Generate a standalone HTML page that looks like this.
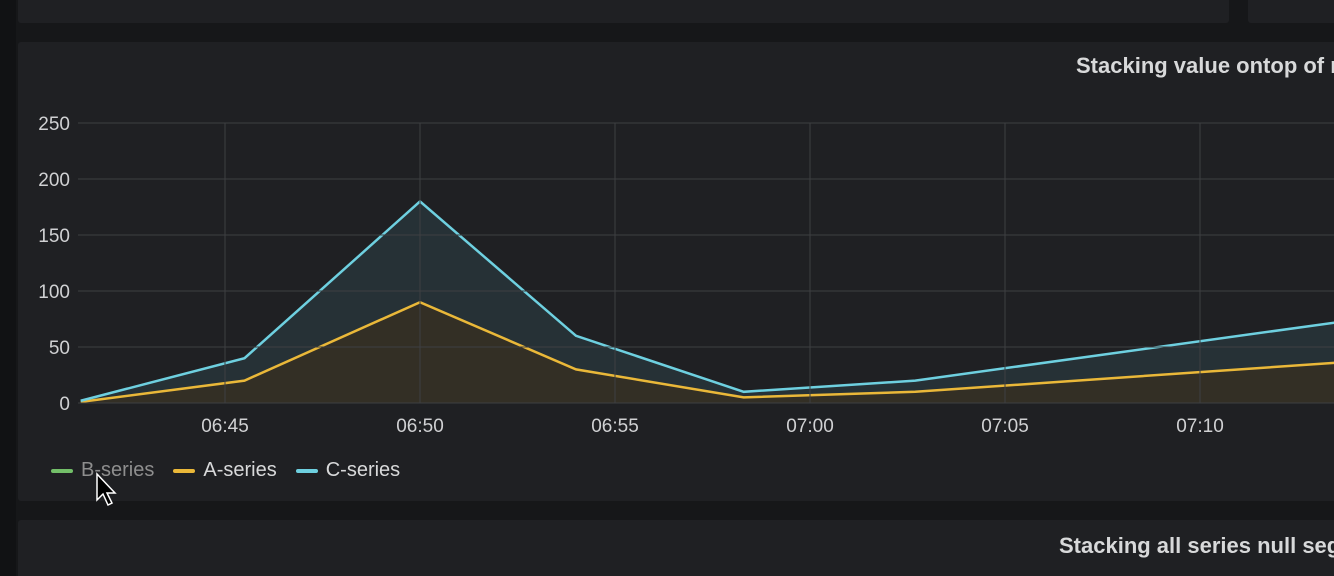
<!DOCTYPE html>
<html><head><meta charset="utf-8"><style>
html,body{margin:0;width:1334px;height:576px;overflow:hidden}
body{background:#161719;font-family:"Liberation Sans",sans-serif;position:relative}
.p{position:absolute;background:#1f2023;border-radius:3px}
.t{position:absolute;color:#d8d9da;font-weight:bold;font-size:22px;white-space:nowrap}
.leg{position:absolute;top:459px;font-size:20px;color:#d8d9da;display:flex;align-items:center;gap:0}
.li{display:flex;align-items:center;margin-right:19px}
.sw{width:22px;height:4px;border-radius:2px;margin-right:8px}
</style></head><body>
<div style="position:absolute;left:0;top:0;width:16px;height:576px;background:#111214"></div>
<div class="p" style="left:18px;top:-5px;width:1211px;height:28px"></div>
<div class="p" style="left:1248px;top:-5px;width:100px;height:28px"></div>
<div class="p" style="left:18px;top:42px;width:1330px;height:459px"></div>
<div class="p" style="left:18px;top:520px;width:1330px;height:70px"></div>
<div class="t" style="left:1076px;top:53px">Stacking value ontop of nulls</div>
<div class="t" style="left:1059px;top:533px">Stacking all series null segment</div>
<svg id="c" width="1334" height="576" style="position:absolute;left:0;top:0"></svg>
<div class="leg" style="left:51px">
<div class="li"><span class="sw" style="background:#73bf69"></span><span style="color:#8e8e8e">B-series</span></div>
<div class="li"><span class="sw" style="background:#eab839"></span><span>A-series</span></div>
<div class="li"><span class="sw" style="background:#6ed0e0"></span><span>C-series</span></div>
</div>
<svg width="30" height="40" style="position:absolute;left:95px;top:472px"><path d="M2 2 L2 28 L8 22 L13 33 L17 31 L12 21 L20 21 Z" fill="#000" stroke="#fff" stroke-width="1.5"/></svg>
<script>
const times=[1.3,5.5,10,14,18.3,22.7,33.5]; // minutes after 06:40
const aVals=[1,20,90,30,5,10,36];
const cVals=[1,20,90,30,5,10,36];
const yTicks=[0,50,100,150,200,250];
const xTicks=[5,10,15,20,25,30];
const xTickLabels=["06:45","06:50","06:55","07:00","07:05","07:10"];
const NS="http://www.w3.org/2000/svg",svg=document.getElementById('c');
const L=78,R=1334;
const x=t=>225+(t-5)*39, y=v=>403-v*1.12;
function mk(tag,at,parent){const e=document.createElementNS(NS,tag);for(const k in at)e.setAttribute(k,at[k]);(parent||svg).appendChild(e);return e;}
const defs=mk('defs',{});const cp=mk('clipPath',{id:'cl'},defs);mk('rect',{x:L,y:0,width:R-L,height:576},cp);
const g=mk('g',{'clip-path':'url(#cl)'});
yTicks.forEach(v=>{const l=mk('line',{x1:L,x2:R,y1:y(v),y2:y(v),stroke:'#3e3f42','stroke-width':1});

const t=mk('text',{x:70,y:y(v)+7,'text-anchor':'end',fill:'#d0d1d3','font-size':19,'font-family':'Liberation Sans'});t.textContent=v;
});
xTicks.forEach((v,i)=>{const l=mk('line',{x1:x(v),x2:x(v),y1:y(250),y2:y(0),stroke:'#3e3f42','stroke-width':1});

const t=mk('text',{x:x(v),y:432,'text-anchor':'middle',fill:'#d0d1d3','font-size':19,'font-family':'Liberation Sans'});t.textContent=xTickLabels[i];
});
const aTop=aVals, cTop=aVals.map((a,i)=>a+cVals[i]);
const pa=times.map((t,i)=>x(t)+','+y(aTop[i])), pc=times.map((t,i)=>x(t)+','+y(cTop[i]));
const ca=mk('polygon',{points:pc.join(' ')+' '+pa.slice().reverse().join(' '),fill:'#6ed0e0','fill-opacity':0.1},g);

const aa=mk('polygon',{points:pa.join(' ')+` ${x(times[times.length-1])},${y(0)} ${x(times[0])},${y(0)}`,fill:'#eab839','fill-opacity':0.1},g);

const al=mk('polyline',{points:pa.join(' '),fill:'none',stroke:'#eab839','stroke-width':2.5},g);

const cl=mk('polyline',{points:pc.join(' '),fill:'none',stroke:'#6ed0e0','stroke-width':2.5},g);

</script>
</body></html>
